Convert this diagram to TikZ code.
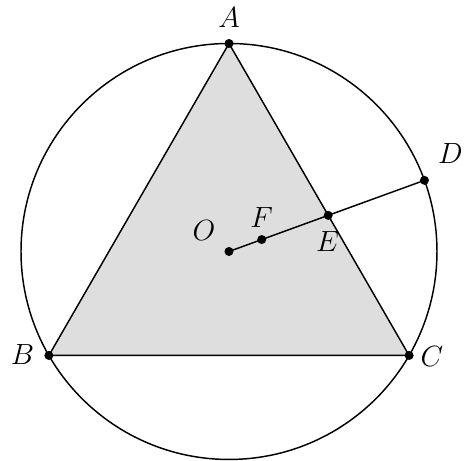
\documentclass[tikz,border=0pt]{standalone}
\usetikzlibrary{calc,intersections}
\begin{document}
\begin{tikzpicture}[
  dotpt/.style={circle,fill=black,inner sep=0pt,minimum size=0.13cm},
  lbl/.style={font=\fontsize{12.5}{15}\selectfont\itshape, inner sep=0pt},
  ln/.style={line width=0.6pt}
]
\useasboundingbox (-3.303,-3.01) rectangle (3.534,3.627);
\coordinate (O) at (0,0);
\coordinate (A) at (90:3);
\coordinate (B) at (210:3);
\coordinate (C) at (330:3);
\coordinate (D) at (20:3);
\path[name path=ac] (A) -- (C);
\path[name path=od] (O) -- (D);
\path[name intersections={of=ac and od, by=E}];
\coordinate (F) at ($(O)!0.33!(E)$);
\fill[black!13] (A) -- (B) -- (C) -- cycle;
\draw[ln] (O) circle (3);
\draw[ln] (A) -- (B) -- (C) -- cycle;
\draw[ln] (O) -- (D);
\foreach \p in {A,B,C,D,E,F,O} \node[dotpt] (n\p) at (\p) {};
\node[lbl] (lA) at ($(A)+(0,0.375)$) {$A$};
\node[lbl] (lB) at ($(B)+(-0.38,0.01)$) {$B$};
\node[lbl] (lC) at ($(C)+(0.33,-0.02)$) {$C$};
\node[lbl] (lD) at ($(D)+(0.375,0.38)$) {$D$};
\node[lbl] (lE) at ($(E)+(-0.01,-0.38)$) {$E$};
\node[lbl] (lF) at ($(F)+(0.0,0.32)$) {$F$};
\node[lbl] (lO) at ($(O)+(-0.36,0.296)$) {$O$};
\end{tikzpicture}
\end{document}
